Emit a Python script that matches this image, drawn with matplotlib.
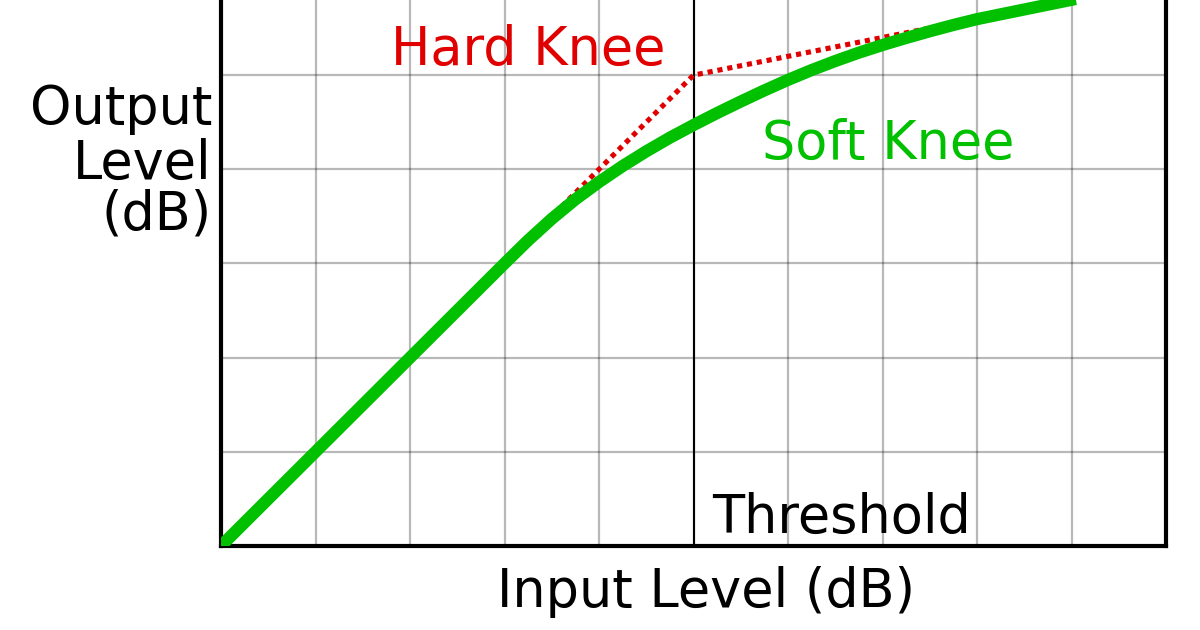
import matplotlib
matplotlib.use("Agg")
import matplotlib.pyplot as plt

# Data (grid units)
hard_x = [0, 5, 10]
hard_y = [0, 5, 6]
soft_x = [0, 3.0, 3.25, 3.5, 3.75, 4.0, 4.25, 4.5, 4.75, 5.0, 5.25, 5.5, 5.75,
          6.0, 6.25, 6.5, 6.75, 7.0, 7.25, 7.5, 7.75, 8.0, 9.0, 10.0]
soft_y = [0, 3.0, 3.246, 3.474, 3.681, 3.865, 4.035, 4.191, 4.336, 4.470, 4.598, 4.720, 4.838,
          4.950, 5.054, 5.150, 5.239, 5.320, 5.395, 5.466, 5.533, 5.595, 5.80, 6.0]
threshold = 5
x_ticks = list(range(0, 11))
y_ticks = list(range(0, 7))

GREEN = "#00c000"
RED = "#e00000"
FS = 37.8

fig = plt.figure(figsize=(12, 6.3), dpi=100)
ax = fig.add_axes([221 / 1200, (630 - 546) / 630, 945 / 1200, 565 / 630])
ax.set_xlim(0, 10)
ax.set_ylim(0, 6)
ax.set_xticks(x_ticks)
ax.set_yticks(y_ticks)
ax.tick_params(length=0, labelbottom=False, labelleft=False)
ax.grid(True, color="black", alpha=0.28, lw=1.6)
ax.set_axisbelow(True)
for s in ["left", "bottom", "right"]:
    ax.spines[s].set_linewidth(3)
    ax.spines[s].set_color("black")
ax.spines["top"].set_visible(False)

ax.axvline(threshold, color="black", lw=1.5, zorder=1.5)

ax.plot(hard_x, hard_y, color=RED, lw=3.7, dashes=(1.0, 0.95), dash_capstyle="butt", zorder=3)
ax.plot(soft_x, soft_y, color=GREEN, lw=8.8, solid_capstyle="butt", solid_joinstyle="round", zorder=4)

ax.text(3.25, 5.11, "Hard Knee", color=RED, fontsize=FS, ha="center", va="baseline")
ax.text(7.06, 4.11, "Soft Knee", color=GREEN, fontsize=FS, ha="center", va="baseline")
ax.text(6.57, 0.14, "Threshold", color="black", fontsize=FS, ha="center", va="baseline")

fig.text(706 / 1200, (630 - 607) / 630, "Input Level (dB)", fontsize=FS, ha="center", va="baseline")
for label, base in [("Output", 124), ("Level", 179), ("(dB)", 229)]:
    fig.text(212 / 1200, (630 - base) / 630, label, fontsize=FS, ha="right", va="baseline")

fig.savefig("out.png", dpi=100)
